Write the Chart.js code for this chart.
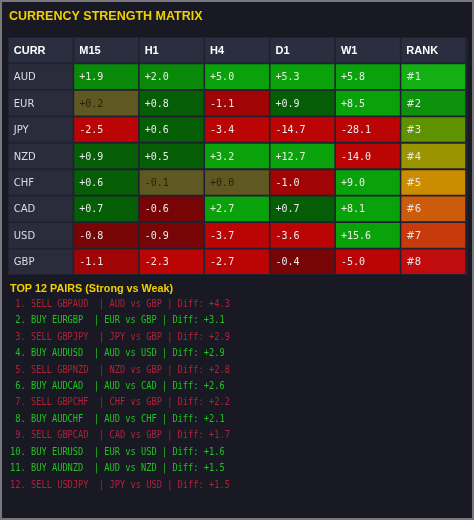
<!DOCTYPE html>
<html><head><meta charset="utf-8">
<script src="https://cdn.jsdelivr.net/npm/chart.js@4.4.0/dist/chart.umd.min.js"></script>
<style>
html,body{margin:0;padding:0;background:#15161e;}
#wrap{position:absolute;left:0;top:0;width:470px;height:516px;border:2px solid #77777d;background:#181922;}
canvas{display:block;}
</style></head><body>
<div id="wrap"><canvas id="c" width="470" height="516"></canvas></div>
<script>
const title = "CURRENCY STRENGTH MATRIX";
const columns = ["CURR","M15","H1","H4","D1","W1","RANK"];
const currencies = ["AUD","EUR","JPY","NZD","CHF","CAD","USD","GBP"];
const m15 = [1.9,0.2,-2.5,0.9,0.6,0.7,-0.8,-1.1];
const h1  = [2.0,0.8,0.6,0.5,-0.1,-0.6,-0.9,-2.3];
const h4  = [5.0,-1.1,-3.4,3.2,0.0,2.7,-3.7,-2.7];
const d1  = [5.3,0.9,-14.7,12.7,-1.0,0.7,-3.6,-0.4];
const w1  = [5.8,8.5,-28.1,-14.0,9.0,8.1,15.6,-5.0];
const ranks = [1,2,3,4,5,6,7,8];
const pairsTitle = "TOP 12 PAIRS (Strong vs Weak)";
const pairAction = ["SELL","BUY","SELL","BUY","SELL","BUY","SELL","BUY","SELL","BUY","BUY","SELL"];
const pairSymbol = ["GBPAUD","EURGBP","GBPJPY","AUDUSD","GBPNZD","AUDCAD","GBPCHF","AUDCHF","GBPCAD","EURUSD","AUDNZD","USDJPY"];
const pairStrong = ["AUD","EUR","JPY","AUD","NZD","AUD","CHF","AUD","CAD","EUR","AUD","JPY"];
const pairWeak   = ["GBP","GBP","GBP","USD","GBP","CAD","GBP","CHF","GBP","USD","NZD","USD"];
const pairDiff   = [4.3,3.1,2.9,2.9,2.8,2.6,2.2,2.1,1.7,1.6,1.5,1.5];

const series = [m15,h1,h4,d1,w1];
const rankColors = ["#12b012","#0d920d","#5e9200","#9a9400","#cc8c00","#cc5c0c","#c63a0c","#c00c0c"];
function valColor(v){
  if (v>=2.5) return "#0aa20a";
  if (v>=1.5) return "#088a08";
  if (v>=0.5) return "#055d05";
  if (v>-0.3) return "#5f5822";
  if (v>-1.0) return "#780505";
  if (v>-2.0) return "#a00404";
  return "#bb0505";
}
const rowLabels = ["HDR"].concat(currencies);
const datasets = columns.map((col,c)=>{
  const colors=[], texts=[], tcol=[];
  rowLabels.forEach((r,i)=>{
    if(i===0){colors.push("#2b2e3e");texts.push(col);tcol.push("#ffffff");return;}
    const k=i-1;
    if(c===0){colors.push("#2a2c3b");texts.push(currencies[k]);tcol.push("#dcdce4");}
    else if(c===6){colors.push(rankColors[k]);texts.push("#"+ranks[k]);tcol.push("#e8e8e8");}
    else{const v=series[c-1][k];colors.push(valColor(v));texts.push((v>=0?"+":"")+v.toFixed(1));
      tcol.push((v<0.5&&v>-0.3)?"#26240c":"#ececec");}
  });
  return {label:col,data:rowLabels.map(()=>[c+0.012,c+0.988]),backgroundColor:colors,
    borderWidth:0,barPercentage:0.93,categoryPercentage:1,texts,tcol,grouped:false};
});

const textPlugin={id:"txt",
 beforeDraw(ch){const x=ch.ctx;x.save();x.fillStyle="#181922";x.fillRect(0,0,ch.width,ch.height);
   x.fillStyle="#1f2130";x.fillRect(6,35,460,238);x.restore();},
 afterDatasetsDraw(ch){
  const x=ch.ctx;x.save();x.textBaseline="middle";
  ch.data.datasets.forEach((ds,di)=>{
    ch.getDatasetMeta(di).data.forEach((el,i)=>{
      const left=Math.min(el.x,el.base);
      if(i===0) x.font="bold 11px 'Liberation Sans',Arial";
      else if(di===0||di===6) x.font="10px 'DejaVu Sans'";
      else x.font="10px 'DejaVu Sans Mono'";
      x.fillStyle=ds.tcol[i];x.fillText(ds.texts[i],left+5,el.y+1);
    });
  });
  x.font="bold 12.5px 'Liberation Sans',Arial";x.fillStyle="#f2d000";x.fillText(title,7,15);
  x.font="bold 10.8px 'Liberation Sans',Arial";x.fillText(pairsTitle,8,287);
  x.font="10.5px 'DejaVu Sans Mono'";
  const lines=pairSymbol.map((p,i)=>String(i+1).padStart(2," ")+". "+pairAction[i]+" "+p+"  | "+pairStrong[i]+" vs "+pairWeak[i]+" | Diff: +"+pairDiff[i].toFixed(1));
  const sc=220/x.measureText(lines[0]).width;
  lines.forEach((s,i)=>{
    x.save();x.translate(8,302+i*16.45);x.scale(sc,1);
    x.fillStyle=pairAction[i]==="SELL"?"#b3213c":"#22c222";
    x.fillText(s,0,0);x.restore();
  });
  x.restore();
 }};

new Chart(document.getElementById("c"),{
 type:"bar",
 data:{labels:rowLabels,datasets},
 options:{indexAxis:"y",responsive:false,animation:false,
  layout:{padding:{left:6,right:6,top:35,bottom:243}},
  plugins:{legend:{display:false},tooltip:{enabled:false}},
  scales:{x:{type:"linear",min:0,max:7,display:false},
          y:{type:"category",display:false,offset:true}}},
 plugins:[textPlugin]
});
</script></body></html>
